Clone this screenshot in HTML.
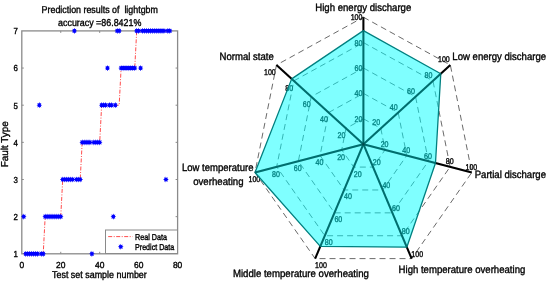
<!DOCTYPE html><html><head><meta charset="utf-8"><title>chart</title><style>html,body{margin:0;padding:0;background:#fff}svg{display:block}text{font-family:"Liberation Sans",Arial,sans-serif;fill:#000;stroke:#000;stroke-width:0.36px;text-rendering:geometricPrecision}</style></head><body>
<svg width="550" height="284" viewBox="0 0 550 284">
<rect width="550" height="284" fill="#fff"/>
<g id="left">
<rect x="21.8" y="30.9" width="155.79999999999998" height="222.9" fill="none" stroke="#8a8a8a" stroke-width="1.3"/>
<path d="M60.75 253.8v-2 M60.75 30.9v2 M99.70 253.8v-2 M99.70 30.9v2 M138.65 253.8v-2 M138.65 30.9v2 M21.8 216.65h2 M177.6 216.65h-2 M21.8 179.50h2 M177.6 179.50h-2 M21.8 142.35h2 M177.6 142.35h-2 M21.8 105.20h2 M177.6 105.20h-2 M21.8 68.05h2 M177.6 68.05h-2" stroke="#8a8a8a" stroke-width="1" fill="none"/>
<polyline points="23.75,253.80 25.70,253.80 27.64,253.80 29.59,253.80 31.54,253.80 33.48,253.80 35.43,253.80 37.38,253.80 39.33,253.80 41.27,253.80 43.22,253.80 45.17,216.65 47.12,216.65 49.06,216.65 51.01,216.65 52.96,216.65 54.91,216.65 56.85,216.65 58.80,216.65 60.75,216.65 62.70,179.50 64.64,179.50 66.59,179.50 68.54,179.50 70.49,179.50 72.44,179.50 74.38,179.50 76.33,179.50 78.28,179.50 80.22,179.50 82.17,142.35 84.12,142.35 86.07,142.35 88.02,142.35 89.96,142.35 91.91,142.35 93.86,142.35 95.80,142.35 97.75,142.35 99.70,142.35 101.65,105.20 103.59,105.20 105.54,105.20 107.49,105.20 109.44,105.20 111.38,105.20 113.33,105.20 115.28,105.20 117.23,105.20 119.17,105.20 121.12,68.05 123.07,68.05 125.02,68.05 126.96,68.05 128.91,68.05 130.86,68.05 132.81,68.05 134.75,68.05 136.70,30.90 138.65,30.90 140.60,30.90 142.54,30.90 144.49,30.90 146.44,30.90 148.39,30.90 150.34,30.90 152.28,30.90 154.23,30.90 156.18,30.90 158.12,30.90 160.07,30.90 162.02,30.90 163.97,30.90 165.91,30.90 167.86,30.90 169.81,30.90" fill="none" stroke="#ff2020" stroke-width="0.8" stroke-dasharray="4 1.5 1 1.5"/>
<path d="M23.75 213.55 L24.34 215.07 L25.73 214.46 L25.17 216.00 L26.55 216.65 L25.17 217.30 L25.73 218.84 L24.34 218.23 L23.75 219.75 L23.16 218.23 L21.77 218.84 L22.32 217.30 L20.95 216.65 L22.32 216.00 L21.77 214.46 L23.16 215.07z M25.70 250.70 L26.28 252.22 L27.67 251.61 L27.12 253.15 L28.50 253.80 L27.12 254.45 L27.67 255.99 L26.28 255.38 L25.70 256.90 L25.11 255.38 L23.72 255.99 L24.27 254.45 L22.89 253.80 L24.27 253.15 L23.72 251.61 L25.11 252.22z M27.64 250.70 L28.23 252.22 L29.62 251.61 L29.07 253.15 L30.44 253.80 L29.07 254.45 L29.62 255.99 L28.23 255.38 L27.64 256.90 L27.05 255.38 L25.66 255.99 L26.22 254.45 L24.84 253.80 L26.22 253.15 L25.66 251.61 L27.05 252.22z M29.59 250.70 L30.18 252.22 L31.57 251.61 L31.01 253.15 L32.39 253.80 L31.01 254.45 L31.57 255.99 L30.18 255.38 L29.59 256.90 L29.00 255.38 L27.61 255.99 L28.17 254.45 L26.79 253.80 L28.17 253.15 L27.61 251.61 L29.00 252.22z M31.54 250.70 L32.13 252.22 L33.52 251.61 L32.96 253.15 L34.34 253.80 L32.96 254.45 L33.52 255.99 L32.13 255.38 L31.54 256.90 L30.95 255.38 L29.56 255.99 L30.11 254.45 L28.74 253.80 L30.11 253.15 L29.56 251.61 L30.95 252.22z M33.48 250.70 L34.07 252.22 L35.46 251.61 L34.91 253.15 L36.28 253.80 L34.91 254.45 L35.46 255.99 L34.07 255.38 L33.48 256.90 L32.90 255.38 L31.51 255.99 L32.06 254.45 L30.68 253.80 L32.06 253.15 L31.51 251.61 L32.90 252.22z M35.43 250.70 L36.02 252.22 L37.41 251.61 L36.86 253.15 L38.23 253.80 L36.86 254.45 L37.41 255.99 L36.02 255.38 L35.43 256.90 L34.84 255.38 L33.45 255.99 L34.01 254.45 L32.63 253.80 L34.01 253.15 L33.45 251.61 L34.84 252.22z M37.38 250.70 L37.97 252.22 L39.36 251.61 L38.80 253.15 L40.18 253.80 L38.80 254.45 L39.36 255.99 L37.97 255.38 L37.38 256.90 L36.79 255.38 L35.40 255.99 L35.96 254.45 L34.58 253.80 L35.96 253.15 L35.40 251.61 L36.79 252.22z M39.33 102.10 L39.92 103.62 L41.31 103.01 L40.75 104.55 L42.13 105.20 L40.75 105.85 L41.31 107.39 L39.92 106.78 L39.33 108.30 L38.74 106.78 L37.35 107.39 L37.90 105.85 L36.53 105.20 L37.90 104.55 L37.35 103.01 L38.74 103.62z M41.27 250.70 L41.86 252.22 L43.25 251.61 L42.70 253.15 L44.07 253.80 L42.70 254.45 L43.25 255.99 L41.86 255.38 L41.27 256.90 L40.69 255.38 L39.30 255.99 L39.85 254.45 L38.48 253.80 L39.85 253.15 L39.30 251.61 L40.69 252.22z M43.22 250.70 L43.81 252.22 L45.20 251.61 L44.65 253.15 L46.02 253.80 L44.65 254.45 L45.20 255.99 L43.81 255.38 L43.22 256.90 L42.63 255.38 L41.24 255.99 L41.80 254.45 L40.42 253.80 L41.80 253.15 L41.24 251.61 L42.63 252.22z M45.17 213.55 L45.76 215.07 L47.15 214.46 L46.59 216.00 L47.97 216.65 L46.59 217.30 L47.15 218.84 L45.76 218.23 L45.17 219.75 L44.58 218.23 L43.19 218.84 L43.75 217.30 L42.37 216.65 L43.75 216.00 L43.19 214.46 L44.58 215.07z M47.12 213.55 L47.71 215.07 L49.10 214.46 L48.54 216.00 L49.92 216.65 L48.54 217.30 L49.10 218.84 L47.71 218.23 L47.12 219.75 L46.53 218.23 L45.14 218.84 L45.69 217.30 L44.32 216.65 L45.69 216.00 L45.14 214.46 L46.53 215.07z M49.06 213.55 L49.65 215.07 L51.04 214.46 L50.49 216.00 L51.86 216.65 L50.49 217.30 L51.04 218.84 L49.65 218.23 L49.06 219.75 L48.48 218.23 L47.09 218.84 L47.64 217.30 L46.27 216.65 L47.64 216.00 L47.09 214.46 L48.48 215.07z M51.01 213.55 L51.60 215.07 L52.99 214.46 L52.44 216.00 L53.81 216.65 L52.44 217.30 L52.99 218.84 L51.60 218.23 L51.01 219.75 L50.42 218.23 L49.03 218.84 L49.59 217.30 L48.21 216.65 L49.59 216.00 L49.03 214.46 L50.42 215.07z M52.96 213.55 L53.55 215.07 L54.94 214.46 L54.38 216.00 L55.76 216.65 L54.38 217.30 L54.94 218.84 L53.55 218.23 L52.96 219.75 L52.37 218.23 L50.98 218.84 L51.54 217.30 L50.16 216.65 L51.54 216.00 L50.98 214.46 L52.37 215.07z M54.91 213.55 L55.50 215.07 L56.89 214.46 L56.33 216.00 L57.71 216.65 L56.33 217.30 L56.89 218.84 L55.50 218.23 L54.91 219.75 L54.32 218.23 L52.93 218.84 L53.48 217.30 L52.11 216.65 L53.48 216.00 L52.93 214.46 L54.32 215.07z M56.85 213.55 L57.44 215.07 L58.83 214.46 L58.28 216.00 L59.65 216.65 L58.28 217.30 L58.83 218.84 L57.44 218.23 L56.85 219.75 L56.27 218.23 L54.88 218.84 L55.43 217.30 L54.05 216.65 L55.43 216.00 L54.88 214.46 L56.27 215.07z M58.80 213.55 L59.39 215.07 L60.78 214.46 L60.23 216.00 L61.60 216.65 L60.23 217.30 L60.78 218.84 L59.39 218.23 L58.80 219.75 L58.21 218.23 L56.82 218.84 L57.38 217.30 L56.00 216.65 L57.38 216.00 L56.82 214.46 L58.21 215.07z M60.75 213.55 L61.34 215.07 L62.73 214.46 L62.17 216.00 L63.55 216.65 L62.17 217.30 L62.73 218.84 L61.34 218.23 L60.75 219.75 L60.16 218.23 L58.77 218.84 L59.33 217.30 L57.95 216.65 L59.33 216.00 L58.77 214.46 L60.16 215.07z M62.70 176.40 L63.29 177.92 L64.68 177.31 L64.12 178.85 L65.50 179.50 L64.12 180.15 L64.68 181.69 L63.29 181.08 L62.70 182.60 L62.11 181.08 L60.72 181.69 L61.27 180.15 L59.90 179.50 L61.27 178.85 L60.72 177.31 L62.11 177.92z M64.64 176.40 L65.23 177.92 L66.62 177.31 L66.07 178.85 L67.44 179.50 L66.07 180.15 L66.62 181.69 L65.23 181.08 L64.64 182.60 L64.06 181.08 L62.67 181.69 L63.22 180.15 L61.84 179.50 L63.22 178.85 L62.67 177.31 L64.06 177.92z M66.59 176.40 L67.18 177.92 L68.57 177.31 L68.02 178.85 L69.39 179.50 L68.02 180.15 L68.57 181.69 L67.18 181.08 L66.59 182.60 L66.00 181.08 L64.61 181.69 L65.17 180.15 L63.79 179.50 L65.17 178.85 L64.61 177.31 L66.00 177.92z M68.54 176.40 L69.13 177.92 L70.52 177.31 L69.96 178.85 L71.34 179.50 L69.96 180.15 L70.52 181.69 L69.13 181.08 L68.54 182.60 L67.95 181.08 L66.56 181.69 L67.12 180.15 L65.74 179.50 L67.12 178.85 L66.56 177.31 L67.95 177.92z M70.49 176.40 L71.08 177.92 L72.47 177.31 L71.91 178.85 L73.29 179.50 L71.91 180.15 L72.47 181.69 L71.08 181.08 L70.49 182.60 L69.90 181.08 L68.51 181.69 L69.06 180.15 L67.69 179.50 L69.06 178.85 L68.51 177.31 L69.90 177.92z M72.44 176.40 L73.02 177.92 L74.41 177.31 L73.86 178.85 L75.23 179.50 L73.86 180.15 L74.41 181.69 L73.02 181.08 L72.44 182.60 L71.85 181.08 L70.46 181.69 L71.01 180.15 L69.64 179.50 L71.01 178.85 L70.46 177.31 L71.85 177.92z M74.38 27.80 L74.97 29.32 L76.36 28.71 L75.81 30.25 L77.18 30.90 L75.81 31.55 L76.36 33.09 L74.97 32.48 L74.38 34.00 L73.79 32.48 L72.40 33.09 L72.96 31.55 L71.58 30.90 L72.96 30.25 L72.40 28.71 L73.79 29.32z M76.33 176.40 L76.92 177.92 L78.31 177.31 L77.75 178.85 L79.13 179.50 L77.75 180.15 L78.31 181.69 L76.92 181.08 L76.33 182.60 L75.74 181.08 L74.35 181.69 L74.91 180.15 L73.53 179.50 L74.91 178.85 L74.35 177.31 L75.74 177.92z M78.28 176.40 L78.87 177.92 L80.26 177.31 L79.70 178.85 L81.08 179.50 L79.70 180.15 L80.26 181.69 L78.87 181.08 L78.28 182.60 L77.69 181.08 L76.30 181.69 L76.85 180.15 L75.48 179.50 L76.85 178.85 L76.30 177.31 L77.69 177.92z M80.22 176.40 L80.81 177.92 L82.20 177.31 L81.65 178.85 L83.02 179.50 L81.65 180.15 L82.20 181.69 L80.81 181.08 L80.22 182.60 L79.64 181.08 L78.25 181.69 L78.80 180.15 L77.42 179.50 L78.80 178.85 L78.25 177.31 L79.64 177.92z M82.17 139.25 L82.76 140.77 L84.15 140.16 L83.60 141.70 L84.97 142.35 L83.60 143.00 L84.15 144.54 L82.76 143.93 L82.17 145.45 L81.58 143.93 L80.19 144.54 L80.75 143.00 L79.37 142.35 L80.75 141.70 L80.19 140.16 L81.58 140.77z M84.12 139.25 L84.71 140.77 L86.10 140.16 L85.54 141.70 L86.92 142.35 L85.54 143.00 L86.10 144.54 L84.71 143.93 L84.12 145.45 L83.53 143.93 L82.14 144.54 L82.70 143.00 L81.32 142.35 L82.70 141.70 L82.14 140.16 L83.53 140.77z M86.07 139.25 L86.66 140.77 L88.05 140.16 L87.49 141.70 L88.87 142.35 L87.49 143.00 L88.05 144.54 L86.66 143.93 L86.07 145.45 L85.48 143.93 L84.09 144.54 L84.64 143.00 L83.27 142.35 L84.64 141.70 L84.09 140.16 L85.48 140.77z M88.02 139.25 L88.60 140.77 L89.99 140.16 L89.44 141.70 L90.81 142.35 L89.44 143.00 L89.99 144.54 L88.60 143.93 L88.02 145.45 L87.43 143.93 L86.04 144.54 L86.59 143.00 L85.22 142.35 L86.59 141.70 L86.04 140.16 L87.43 140.77z M89.96 139.25 L90.55 140.77 L91.94 140.16 L91.39 141.70 L92.76 142.35 L91.39 143.00 L91.94 144.54 L90.55 143.93 L89.96 145.45 L89.37 143.93 L87.98 144.54 L88.54 143.00 L87.16 142.35 L88.54 141.70 L87.98 140.16 L89.37 140.77z M91.91 250.70 L92.50 252.22 L93.89 251.61 L93.33 253.15 L94.71 253.80 L93.33 254.45 L93.89 255.99 L92.50 255.38 L91.91 256.90 L91.32 255.38 L89.93 255.99 L90.49 254.45 L89.11 253.80 L90.49 253.15 L89.93 251.61 L91.32 252.22z M93.86 139.25 L94.45 140.77 L95.84 140.16 L95.28 141.70 L96.66 142.35 L95.28 143.00 L95.84 144.54 L94.45 143.93 L93.86 145.45 L93.27 143.93 L91.88 144.54 L92.43 143.00 L91.06 142.35 L92.43 141.70 L91.88 140.16 L93.27 140.77z M95.80 139.25 L96.39 140.77 L97.78 140.16 L97.23 141.70 L98.60 142.35 L97.23 143.00 L97.78 144.54 L96.39 143.93 L95.80 145.45 L95.22 143.93 L93.83 144.54 L94.38 143.00 L93.00 142.35 L94.38 141.70 L93.83 140.16 L95.22 140.77z M97.75 139.25 L98.34 140.77 L99.73 140.16 L99.18 141.70 L100.55 142.35 L99.18 143.00 L99.73 144.54 L98.34 143.93 L97.75 145.45 L97.16 143.93 L95.77 144.54 L96.33 143.00 L94.95 142.35 L96.33 141.70 L95.77 140.16 L97.16 140.77z M99.70 139.25 L100.29 140.77 L101.68 140.16 L101.12 141.70 L102.50 142.35 L101.12 143.00 L101.68 144.54 L100.29 143.93 L99.70 145.45 L99.11 143.93 L97.72 144.54 L98.28 143.00 L96.90 142.35 L98.28 141.70 L97.72 140.16 L99.11 140.77z M101.65 102.10 L102.24 103.62 L103.63 103.01 L103.07 104.55 L104.45 105.20 L103.07 105.85 L103.63 107.39 L102.24 106.78 L101.65 108.30 L101.06 106.78 L99.67 107.39 L100.22 105.85 L98.85 105.20 L100.22 104.55 L99.67 103.01 L101.06 103.62z M103.59 102.10 L104.18 103.62 L105.57 103.01 L105.02 104.55 L106.39 105.20 L105.02 105.85 L105.57 107.39 L104.18 106.78 L103.59 108.30 L103.01 106.78 L101.62 107.39 L102.17 105.85 L100.79 105.20 L102.17 104.55 L101.62 103.01 L103.01 103.62z M105.54 102.10 L106.13 103.62 L107.52 103.01 L106.97 104.55 L108.34 105.20 L106.97 105.85 L107.52 107.39 L106.13 106.78 L105.54 108.30 L104.95 106.78 L103.56 107.39 L104.12 105.85 L102.74 105.20 L104.12 104.55 L103.56 103.01 L104.95 103.62z M107.49 64.95 L108.08 66.47 L109.47 65.86 L108.91 67.40 L110.29 68.05 L108.91 68.70 L109.47 70.24 L108.08 69.63 L107.49 71.15 L106.90 69.63 L105.51 70.24 L106.07 68.70 L104.69 68.05 L106.07 67.40 L105.51 65.86 L106.90 66.47z M109.44 102.10 L110.03 103.62 L111.42 103.01 L110.86 104.55 L112.24 105.20 L110.86 105.85 L111.42 107.39 L110.03 106.78 L109.44 108.30 L108.85 106.78 L107.46 107.39 L108.01 105.85 L106.64 105.20 L108.01 104.55 L107.46 103.01 L108.85 103.62z M111.38 102.10 L111.97 103.62 L113.36 103.01 L112.81 104.55 L114.18 105.20 L112.81 105.85 L113.36 107.39 L111.97 106.78 L111.38 108.30 L110.80 106.78 L109.41 107.39 L109.96 105.85 L108.58 105.20 L109.96 104.55 L109.41 103.01 L110.80 103.62z M113.33 213.55 L113.92 215.07 L115.31 214.46 L114.76 216.00 L116.13 216.65 L114.76 217.30 L115.31 218.84 L113.92 218.23 L113.33 219.75 L112.74 218.23 L111.35 218.84 L111.91 217.30 L110.53 216.65 L111.91 216.00 L111.35 214.46 L112.74 215.07z M115.28 102.10 L115.87 103.62 L117.26 103.01 L116.70 104.55 L118.08 105.20 L116.70 105.85 L117.26 107.39 L115.87 106.78 L115.28 108.30 L114.69 106.78 L113.30 107.39 L113.86 105.85 L112.48 105.20 L113.86 104.55 L113.30 103.01 L114.69 103.62z M117.23 27.80 L117.82 29.32 L119.21 28.71 L118.65 30.25 L120.03 30.90 L118.65 31.55 L119.21 33.09 L117.82 32.48 L117.23 34.00 L116.64 32.48 L115.25 33.09 L115.80 31.55 L114.43 30.90 L115.80 30.25 L115.25 28.71 L116.64 29.32z M119.17 27.80 L119.76 29.32 L121.15 28.71 L120.60 30.25 L121.97 30.90 L120.60 31.55 L121.15 33.09 L119.76 32.48 L119.17 34.00 L118.59 32.48 L117.20 33.09 L117.75 31.55 L116.37 30.90 L117.75 30.25 L117.20 28.71 L118.59 29.32z M121.12 64.95 L121.71 66.47 L123.10 65.86 L122.55 67.40 L123.92 68.05 L122.55 68.70 L123.10 70.24 L121.71 69.63 L121.12 71.15 L120.53 69.63 L119.14 70.24 L119.70 68.70 L118.32 68.05 L119.70 67.40 L119.14 65.86 L120.53 66.47z M123.07 64.95 L123.66 66.47 L125.05 65.86 L124.49 67.40 L125.87 68.05 L124.49 68.70 L125.05 70.24 L123.66 69.63 L123.07 71.15 L122.48 69.63 L121.09 70.24 L121.65 68.70 L120.27 68.05 L121.65 67.40 L121.09 65.86 L122.48 66.47z M125.02 64.95 L125.61 66.47 L127.00 65.86 L126.44 67.40 L127.82 68.05 L126.44 68.70 L127.00 70.24 L125.61 69.63 L125.02 71.15 L124.43 69.63 L123.04 70.24 L123.59 68.70 L122.22 68.05 L123.59 67.40 L123.04 65.86 L124.43 66.47z M126.96 64.95 L127.55 66.47 L128.94 65.86 L128.39 67.40 L129.76 68.05 L128.39 68.70 L128.94 70.24 L127.55 69.63 L126.96 71.15 L126.38 69.63 L124.99 70.24 L125.54 68.70 L124.16 68.05 L125.54 67.40 L124.99 65.86 L126.38 66.47z M128.91 64.95 L129.50 66.47 L130.89 65.86 L130.34 67.40 L131.71 68.05 L130.34 68.70 L130.89 70.24 L129.50 69.63 L128.91 71.15 L128.32 69.63 L126.93 70.24 L127.49 68.70 L126.11 68.05 L127.49 67.40 L126.93 65.86 L128.32 66.47z M130.86 64.95 L131.45 66.47 L132.84 65.86 L132.28 67.40 L133.66 68.05 L132.28 68.70 L132.84 70.24 L131.45 69.63 L130.86 71.15 L130.27 69.63 L128.88 70.24 L129.44 68.70 L128.06 68.05 L129.44 67.40 L128.88 65.86 L130.27 66.47z M132.81 64.95 L133.40 66.47 L134.79 65.86 L134.23 67.40 L135.61 68.05 L134.23 68.70 L134.79 70.24 L133.40 69.63 L132.81 71.15 L132.22 69.63 L130.83 70.24 L131.38 68.70 L130.01 68.05 L131.38 67.40 L130.83 65.86 L132.22 66.47z M134.75 64.95 L135.34 66.47 L136.73 65.86 L136.18 67.40 L137.56 68.05 L136.18 68.70 L136.73 70.24 L135.34 69.63 L134.75 71.15 L134.17 69.63 L132.78 70.24 L133.33 68.70 L131.95 68.05 L133.33 67.40 L132.78 65.86 L134.17 66.47z M136.70 27.80 L137.29 29.32 L138.68 28.71 L138.13 30.25 L139.50 30.90 L138.13 31.55 L138.68 33.09 L137.29 32.48 L136.70 34.00 L136.11 32.48 L134.72 33.09 L135.28 31.55 L133.90 30.90 L135.28 30.25 L134.72 28.71 L136.11 29.32z M138.65 27.80 L139.24 29.32 L140.63 28.71 L140.07 30.25 L141.45 30.90 L140.07 31.55 L140.63 33.09 L139.24 32.48 L138.65 34.00 L138.06 32.48 L136.67 33.09 L137.23 31.55 L135.85 30.90 L137.23 30.25 L136.67 28.71 L138.06 29.32z M140.60 64.95 L141.19 66.47 L142.58 65.86 L142.02 67.40 L143.40 68.05 L142.02 68.70 L142.58 70.24 L141.19 69.63 L140.60 71.15 L140.01 69.63 L138.62 70.24 L139.17 68.70 L137.80 68.05 L139.17 67.40 L138.62 65.86 L140.01 66.47z M142.54 27.80 L143.13 29.32 L144.52 28.71 L143.97 30.25 L145.34 30.90 L143.97 31.55 L144.52 33.09 L143.13 32.48 L142.54 34.00 L141.96 32.48 L140.57 33.09 L141.12 31.55 L139.74 30.90 L141.12 30.25 L140.57 28.71 L141.96 29.32z M144.49 27.80 L145.08 29.32 L146.47 28.71 L145.92 30.25 L147.29 30.90 L145.92 31.55 L146.47 33.09 L145.08 32.48 L144.49 34.00 L143.90 32.48 L142.51 33.09 L143.07 31.55 L141.69 30.90 L143.07 30.25 L142.51 28.71 L143.90 29.32z M146.44 27.80 L147.03 29.32 L148.42 28.71 L147.86 30.25 L149.24 30.90 L147.86 31.55 L148.42 33.09 L147.03 32.48 L146.44 34.00 L145.85 32.48 L144.46 33.09 L145.02 31.55 L143.64 30.90 L145.02 30.25 L144.46 28.71 L145.85 29.32z M148.39 27.80 L148.98 29.32 L150.37 28.71 L149.81 30.25 L151.19 30.90 L149.81 31.55 L150.37 33.09 L148.98 32.48 L148.39 34.00 L147.80 32.48 L146.41 33.09 L146.96 31.55 L145.59 30.90 L146.96 30.25 L146.41 28.71 L147.80 29.32z M150.34 27.80 L150.92 29.32 L152.31 28.71 L151.76 30.25 L153.14 30.90 L151.76 31.55 L152.31 33.09 L150.92 32.48 L150.34 34.00 L149.75 32.48 L148.36 33.09 L148.91 31.55 L147.53 30.90 L148.91 30.25 L148.36 28.71 L149.75 29.32z M152.28 27.80 L152.87 29.32 L154.26 28.71 L153.71 30.25 L155.08 30.90 L153.71 31.55 L154.26 33.09 L152.87 32.48 L152.28 34.00 L151.69 32.48 L150.30 33.09 L150.86 31.55 L149.48 30.90 L150.86 30.25 L150.30 28.71 L151.69 29.32z M154.23 27.80 L154.82 29.32 L156.21 28.71 L155.65 30.25 L157.03 30.90 L155.65 31.55 L156.21 33.09 L154.82 32.48 L154.23 34.00 L153.64 32.48 L152.25 33.09 L152.81 31.55 L151.43 30.90 L152.81 30.25 L152.25 28.71 L153.64 29.32z M156.18 27.80 L156.77 29.32 L158.16 28.71 L157.60 30.25 L158.98 30.90 L157.60 31.55 L158.16 33.09 L156.77 32.48 L156.18 34.00 L155.59 32.48 L154.20 33.09 L154.75 31.55 L153.38 30.90 L154.75 30.25 L154.20 28.71 L155.59 29.32z M158.12 27.80 L158.71 29.32 L160.10 28.71 L159.55 30.25 L160.93 30.90 L159.55 31.55 L160.10 33.09 L158.71 32.48 L158.12 34.00 L157.54 32.48 L156.15 33.09 L156.70 31.55 L155.32 30.90 L156.70 30.25 L156.15 28.71 L157.54 29.32z M160.07 27.80 L160.66 29.32 L162.05 28.71 L161.50 30.25 L162.87 30.90 L161.50 31.55 L162.05 33.09 L160.66 32.48 L160.07 34.00 L159.48 32.48 L158.09 33.09 L158.65 31.55 L157.27 30.90 L158.65 30.25 L158.09 28.71 L159.48 29.32z M162.02 27.80 L162.61 29.32 L164.00 28.71 L163.44 30.25 L164.82 30.90 L163.44 31.55 L164.00 33.09 L162.61 32.48 L162.02 34.00 L161.43 32.48 L160.04 33.09 L160.60 31.55 L159.22 30.90 L160.60 30.25 L160.04 28.71 L161.43 29.32z M163.97 27.80 L164.56 29.32 L165.95 28.71 L165.39 30.25 L166.77 30.90 L165.39 31.55 L165.95 33.09 L164.56 32.48 L163.97 34.00 L163.38 32.48 L161.99 33.09 L162.54 31.55 L161.17 30.90 L162.54 30.25 L161.99 28.71 L163.38 29.32z M165.91 176.40 L166.50 177.92 L167.89 177.31 L167.34 178.85 L168.72 179.50 L167.34 180.15 L167.89 181.69 L166.50 181.08 L165.91 182.60 L165.33 181.08 L163.94 181.69 L164.49 180.15 L163.11 179.50 L164.49 178.85 L163.94 177.31 L165.33 177.92z M167.86 27.80 L168.45 29.32 L169.84 28.71 L169.29 30.25 L170.66 30.90 L169.29 31.55 L169.84 33.09 L168.45 32.48 L167.86 34.00 L167.27 32.48 L165.88 33.09 L166.44 31.55 L165.06 30.90 L166.44 30.25 L165.88 28.71 L167.27 29.32z M169.81 27.80 L170.40 29.32 L171.79 28.71 L171.23 30.25 L172.61 30.90 L171.23 31.55 L171.79 33.09 L170.40 32.48 L169.81 34.00 L169.22 32.48 L167.83 33.09 L168.39 31.55 L167.01 30.90 L168.39 30.25 L167.83 28.71 L169.22 29.32z" fill="#0000ff"/>
<rect x="105.5" y="230" width="72" height="23.5" fill="#fff" stroke="#8a8a8a" stroke-width="1"/>
<path d="M108.2 236.6H132.5" stroke="#ff2020" stroke-width="0.8" stroke-dasharray="4 1.5 1 1.5"/>
<path d="M120.75 243.65 L121.34 245.17 L122.73 244.56 L122.17 246.10 L123.55 246.75 L122.17 247.40 L122.73 248.94 L121.34 248.33 L120.75 249.85 L120.16 248.33 L118.77 248.94 L119.33 247.40 L117.95 246.75 L119.33 246.10 L118.77 244.56 L120.16 245.17z" fill="#0000ff"/>
<text x="135" y="239.6" font-size="8.6" text-anchor="start" textLength="32" lengthAdjust="spacingAndGlyphs"  xml:space="preserve">Real Data</text>
<text x="135" y="249.6" font-size="8.6" text-anchor="start" textLength="39.3" lengthAdjust="spacingAndGlyphs"  xml:space="preserve">Predict Data</text>
<text x="41.6" y="12.6" font-size="10.0" text-anchor="start" textLength="116.3" lengthAdjust="spacingAndGlyphs"  xml:space="preserve">Prediction results of  lightgbm</text>
<text x="58.1" y="25.6" font-size="10.0" text-anchor="start" textLength="83.2" lengthAdjust="spacingAndGlyphs"  xml:space="preserve">accuracy =86.8421%</text>
<text x="52.0" y="277.5" font-size="10.0" text-anchor="start" textLength="94.8" lengthAdjust="spacingAndGlyphs"  xml:space="preserve">Test set sample number</text>
<text transform="translate(7.9,144.3) rotate(-90)" font-size="10.0" text-anchor="middle" textLength="46" lengthAdjust="spacingAndGlyphs">Fault Type</text>
<text x="21.8" y="267.7" font-size="8.8" text-anchor="middle" textLength="4.7" lengthAdjust="spacingAndGlyphs"  xml:space="preserve">0</text>
<text x="60.75" y="267.7" font-size="8.8" text-anchor="middle" textLength="9.4" lengthAdjust="spacingAndGlyphs"  xml:space="preserve">20</text>
<text x="99.69999999999999" y="267.7" font-size="8.8" text-anchor="middle" textLength="9.4" lengthAdjust="spacingAndGlyphs"  xml:space="preserve">40</text>
<text x="138.64999999999998" y="267.7" font-size="8.8" text-anchor="middle" textLength="9.4" lengthAdjust="spacingAndGlyphs"  xml:space="preserve">60</text>
<text x="177.6" y="267.7" font-size="8.8" text-anchor="middle" textLength="9.4" lengthAdjust="spacingAndGlyphs"  xml:space="preserve">80</text>
<text x="17.9" y="257.1" font-size="8.8" text-anchor="end" textLength="4.4" lengthAdjust="spacingAndGlyphs"  xml:space="preserve">1</text>
<text x="17.9" y="219.95000000000002" font-size="8.8" text-anchor="end" textLength="4.4" lengthAdjust="spacingAndGlyphs"  xml:space="preserve">2</text>
<text x="17.9" y="182.8" font-size="8.8" text-anchor="end" textLength="4.4" lengthAdjust="spacingAndGlyphs"  xml:space="preserve">3</text>
<text x="17.9" y="145.65000000000003" font-size="8.8" text-anchor="end" textLength="4.4" lengthAdjust="spacingAndGlyphs"  xml:space="preserve">4</text>
<text x="17.9" y="108.50000000000001" font-size="8.8" text-anchor="end" textLength="4.4" lengthAdjust="spacingAndGlyphs"  xml:space="preserve">5</text>
<text x="17.9" y="71.35000000000001" font-size="8.8" text-anchor="end" textLength="4.4" lengthAdjust="spacingAndGlyphs"  xml:space="preserve">6</text>
<text x="17.9" y="34.2" font-size="8.8" text-anchor="end" textLength="4.4" lengthAdjust="spacingAndGlyphs"  xml:space="preserve">7</text>
</g>
<g id="radar">
<polygon points="363.40,118.80 380.79,128.36 385.08,149.85 373.05,167.08 353.75,167.08 341.72,149.85 346.01,128.36" fill="none" stroke="#6a6a6a" stroke-width="1" stroke-dasharray="6 4"/>
<polygon points="363.40,93.40 398.18,112.53 406.76,155.50 382.70,189.97 344.10,189.97 320.04,155.50 328.62,112.53" fill="none" stroke="#6a6a6a" stroke-width="1" stroke-dasharray="6 4"/>
<polygon points="363.40,68.00 415.56,96.69 428.45,161.16 392.35,212.85 334.45,212.85 298.35,161.16 311.24,96.69" fill="none" stroke="#6a6a6a" stroke-width="1" stroke-dasharray="6 4"/>
<polygon points="363.40,42.60 432.95,80.85 450.13,166.81 402.00,235.74 324.80,235.74 276.67,166.81 293.85,80.85" fill="none" stroke="#6a6a6a" stroke-width="1" stroke-dasharray="6 4"/>
<polygon points="363.40,17.20 450.34,65.02 471.81,172.46 411.65,258.62 315.15,258.62 254.99,172.46 276.46,65.02" fill="none" stroke="#6a6a6a" stroke-width="1" stroke-dasharray="6 4"/>
<line x1="363.4" y1="144.2" x2="363.40" y2="17.20" stroke="#000" stroke-width="2"/>
<line x1="363.4" y1="144.2" x2="450.34" y2="65.02" stroke="#000" stroke-width="2"/>
<line x1="363.4" y1="144.2" x2="471.81" y2="172.46" stroke="#000" stroke-width="2"/>
<line x1="363.4" y1="144.2" x2="411.65" y2="258.62" stroke="#000" stroke-width="2"/>
<line x1="363.4" y1="144.2" x2="315.15" y2="258.62" stroke="#000" stroke-width="2"/>
<line x1="363.4" y1="144.2" x2="254.99" y2="172.46" stroke="#000" stroke-width="2"/>
<line x1="363.4" y1="144.2" x2="276.46" y2="65.02" stroke="#000" stroke-width="2"/>
<text x="362.5" y="121.7" font-size="8.4" text-anchor="end" textLength="7.9" lengthAdjust="spacingAndGlyphs"  xml:space="preserve">20</text>
<text x="362.5" y="96.3" font-size="8.4" text-anchor="end" textLength="7.9" lengthAdjust="spacingAndGlyphs"  xml:space="preserve">40</text>
<text x="362.5" y="70.9" font-size="8.4" text-anchor="end" textLength="7.9" lengthAdjust="spacingAndGlyphs"  xml:space="preserve">60</text>
<text x="362.5" y="45.5" font-size="8.4" text-anchor="end" textLength="7.9" lengthAdjust="spacingAndGlyphs"  xml:space="preserve">80</text>
<text x="362.5" y="20.1" font-size="8.4" text-anchor="end" textLength="11.8" lengthAdjust="spacingAndGlyphs"  xml:space="preserve">100</text>
<text x="380.24" y="125.36" font-size="8.4" text-anchor="end" textLength="7.9" lengthAdjust="spacingAndGlyphs"  xml:space="preserve">20</text>
<text x="397.63" y="109.53" font-size="8.4" text-anchor="end" textLength="7.9" lengthAdjust="spacingAndGlyphs"  xml:space="preserve">40</text>
<text x="415.01" y="93.69" font-size="8.4" text-anchor="end" textLength="7.9" lengthAdjust="spacingAndGlyphs"  xml:space="preserve">60</text>
<text x="432.4" y="77.85" font-size="8.4" text-anchor="end" textLength="7.9" lengthAdjust="spacingAndGlyphs"  xml:space="preserve">80</text>
<text x="449.79" y="62.02" font-size="8.4" text-anchor="end" textLength="11.8" lengthAdjust="spacingAndGlyphs"  xml:space="preserve">100</text>
<text x="384.63" y="147.35" font-size="8.4" text-anchor="middle" textLength="7.9" lengthAdjust="spacingAndGlyphs"  xml:space="preserve">20</text>
<text x="406.31" y="153.0" font-size="8.4" text-anchor="middle" textLength="7.9" lengthAdjust="spacingAndGlyphs"  xml:space="preserve">40</text>
<text x="428.0" y="158.66" font-size="8.4" text-anchor="middle" textLength="7.9" lengthAdjust="spacingAndGlyphs"  xml:space="preserve">60</text>
<text x="449.68" y="164.31" font-size="8.4" text-anchor="middle" textLength="7.9" lengthAdjust="spacingAndGlyphs"  xml:space="preserve">80</text>
<text x="471.36" y="169.96" font-size="8.4" text-anchor="middle" textLength="11.8" lengthAdjust="spacingAndGlyphs"  xml:space="preserve">100</text>
<text x="372.75" y="164.98" font-size="8.4" text-anchor="start" textLength="7.9" lengthAdjust="spacingAndGlyphs"  xml:space="preserve">20</text>
<text x="382.4" y="187.87" font-size="8.4" text-anchor="start" textLength="7.9" lengthAdjust="spacingAndGlyphs"  xml:space="preserve">40</text>
<text x="392.05" y="210.75" font-size="8.4" text-anchor="start" textLength="7.9" lengthAdjust="spacingAndGlyphs"  xml:space="preserve">60</text>
<text x="401.7" y="233.64" font-size="8.4" text-anchor="start" textLength="7.9" lengthAdjust="spacingAndGlyphs"  xml:space="preserve">80</text>
<text x="411.35" y="256.52" font-size="8.4" text-anchor="start" textLength="11.8" lengthAdjust="spacingAndGlyphs"  xml:space="preserve">100</text>
<text x="353.7" y="176.58" font-size="8.4" text-anchor="start" textLength="7.9" lengthAdjust="spacingAndGlyphs"  xml:space="preserve">20</text>
<text x="344.05" y="199.47" font-size="8.4" text-anchor="start" textLength="7.9" lengthAdjust="spacingAndGlyphs"  xml:space="preserve">40</text>
<text x="334.4" y="222.35" font-size="8.4" text-anchor="start" textLength="7.9" lengthAdjust="spacingAndGlyphs"  xml:space="preserve">60</text>
<text x="324.75" y="245.24" font-size="8.4" text-anchor="start" textLength="7.9" lengthAdjust="spacingAndGlyphs"  xml:space="preserve">80</text>
<text x="315.1" y="268.12" font-size="8.4" text-anchor="start" textLength="11.8" lengthAdjust="spacingAndGlyphs"  xml:space="preserve">100</text>
<text x="341.12" y="159.75" font-size="8.4" text-anchor="middle" textLength="7.9" lengthAdjust="spacingAndGlyphs"  xml:space="preserve">20</text>
<text x="319.44" y="165.4" font-size="8.4" text-anchor="middle" textLength="7.9" lengthAdjust="spacingAndGlyphs"  xml:space="preserve">40</text>
<text x="297.75" y="171.06" font-size="8.4" text-anchor="middle" textLength="7.9" lengthAdjust="spacingAndGlyphs"  xml:space="preserve">60</text>
<text x="276.07" y="176.71" font-size="8.4" text-anchor="middle" textLength="7.9" lengthAdjust="spacingAndGlyphs"  xml:space="preserve">80</text>
<text x="254.39" y="182.36" font-size="8.4" text-anchor="middle" textLength="11.8" lengthAdjust="spacingAndGlyphs"  xml:space="preserve">100</text>
<text x="345.36" y="138.26" font-size="8.4" text-anchor="end" textLength="7.9" lengthAdjust="spacingAndGlyphs"  xml:space="preserve">20</text>
<text x="327.97" y="122.43" font-size="8.4" text-anchor="end" textLength="7.9" lengthAdjust="spacingAndGlyphs"  xml:space="preserve">40</text>
<text x="310.59" y="106.59" font-size="8.4" text-anchor="end" textLength="7.9" lengthAdjust="spacingAndGlyphs"  xml:space="preserve">60</text>
<text x="293.2" y="90.75" font-size="8.4" text-anchor="end" textLength="7.9" lengthAdjust="spacingAndGlyphs"  xml:space="preserve">80</text>
<text x="275.81" y="74.92" font-size="8.4" text-anchor="end" textLength="11.8" lengthAdjust="spacingAndGlyphs"  xml:space="preserve">100</text>
<polygon points="363.40,30.66 440.78,73.73 435.49,162.99 406.82,247.18 320.31,246.38 254.99,172.46 291.67,78.87" fill="#00ffff" fill-opacity="0.5" stroke="#008080" stroke-width="1.3" stroke-linejoin="round"/>
<line x1="363.4" y1="144.2" x2="363.40" y2="17.20" stroke="#000" stroke-opacity="0.14" stroke-width="2"/>
<line x1="363.4" y1="144.2" x2="450.34" y2="65.02" stroke="#000" stroke-opacity="0.14" stroke-width="2"/>
<line x1="363.4" y1="144.2" x2="471.81" y2="172.46" stroke="#000" stroke-opacity="0.14" stroke-width="2"/>
<line x1="363.4" y1="144.2" x2="411.65" y2="258.62" stroke="#000" stroke-opacity="0.14" stroke-width="2"/>
<line x1="363.4" y1="144.2" x2="315.15" y2="258.62" stroke="#000" stroke-opacity="0.14" stroke-width="2"/>
<line x1="363.4" y1="144.2" x2="254.99" y2="172.46" stroke="#000" stroke-opacity="0.14" stroke-width="2"/>
<line x1="363.4" y1="144.2" x2="276.46" y2="65.02" stroke="#000" stroke-opacity="0.14" stroke-width="2"/>
<text x="315.3" y="10.9" font-size="10.5" text-anchor="start" textLength="96" lengthAdjust="spacingAndGlyphs"  xml:space="preserve">High energy discharge</text>
<text x="452.3" y="60.4" font-size="10.5" text-anchor="start" textLength="93.8" lengthAdjust="spacingAndGlyphs"  xml:space="preserve">Low energy discharge</text>
<text x="219.6" y="60" font-size="10.5" text-anchor="start" textLength="54.2" lengthAdjust="spacingAndGlyphs"  xml:space="preserve">Normal state</text>
<text x="474.7" y="177.7" font-size="10.5" text-anchor="start" textLength="71.3" lengthAdjust="spacingAndGlyphs"  xml:space="preserve">Partial discharge</text>
<text x="398.6" y="273" font-size="10.5" text-anchor="start" textLength="126.7" lengthAdjust="spacingAndGlyphs"  xml:space="preserve">High temperature overheating</text>
<text x="232.9" y="276.8" font-size="10.5" text-anchor="start" textLength="136" lengthAdjust="spacingAndGlyphs"  xml:space="preserve">Middle temperature overheating</text>
<text x="181.9" y="171.1" font-size="10.5" text-anchor="start" textLength="71.6" lengthAdjust="spacingAndGlyphs"  xml:space="preserve">Low temperature</text>
<text x="193.2" y="185" font-size="10.5" text-anchor="start" textLength="50.4" lengthAdjust="spacingAndGlyphs"  xml:space="preserve">overheating</text>
</g>
</svg></body></html>
